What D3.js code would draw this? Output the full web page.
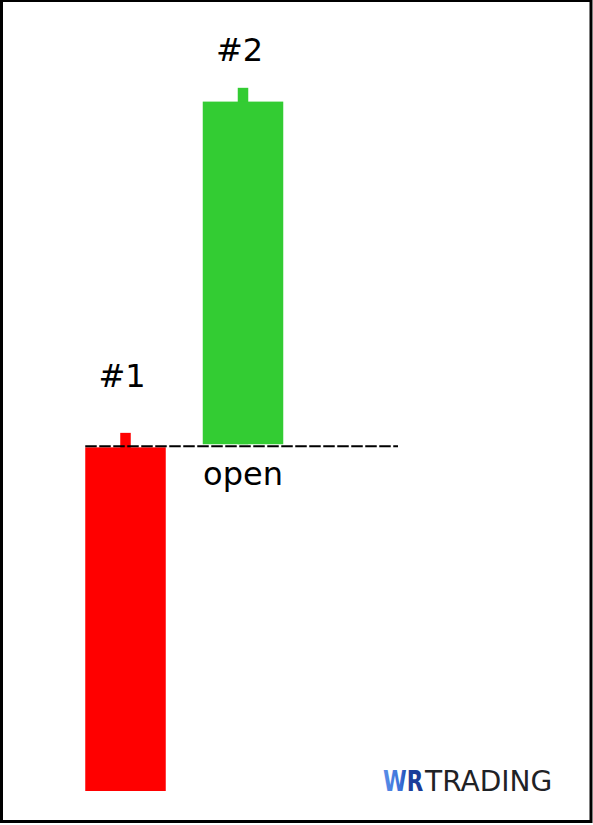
<!DOCTYPE html>
<html>
<head>
<meta charset="utf-8">
<script src="https://cdn.jsdelivr.net/npm/d3@7"></script>
<style>
  html, body { margin: 0; padding: 0; background: #fff; }
  svg { display: block; }
</style>
</head>
<body>
<svg id="chart" width="593" height="825"></svg>
<script>
// ---- data ----
const candles = ["#1", "#2"];
const openVals  = [99.7, 100.6];
const closeVals = [0, 200];
const highVals  = [103.9, 204];
const lowVals   = [0, 100.6];
const openLevel = 100;
const openLabel = "open";

// ---- layout ----
const W = 593, H = 825;
const svg = d3.select("#chart");

const x = d3.scalePoint().domain(candles).range([125.5, 243]);
const y = d3.scaleLinear().domain([0, 100]).range([791, 446.3]);
const bodyW = 80.5, wickW = 10.5;
const colors = { up: "#33cc33", down: "#ff0000" };

const data = candles.map((c, i) => ({
  name: c, open: openVals[i], close: closeVals[i], high: highVals[i], low: lowVals[i]
}));

// frame
svg.append("rect")
  .attr("x", 1.5).attr("y", 0.5)
  .attr("width", 589.5).attr("height", 821)
  .attr("fill", "#fff").attr("stroke", "#000").attr("stroke-width", 3);

const g = svg.append("g");

// wicks
g.selectAll(".wick").data(data).join("rect")
  .attr("class", "wick")
  .attr("x", d => x(d.name) - wickW / 2)
  .attr("width", wickW)
  .attr("y", d => y(d.high))
  .attr("height", d => y(d.low) - y(d.high))
  .attr("fill", d => d.close >= d.open ? colors.up : colors.down);

// bodies
g.selectAll(".body").data(data).join("rect")
  .attr("class", "body")
  .attr("x", d => x(d.name) - bodyW / 2)
  .attr("width", bodyW)
  .attr("y", d => y(Math.max(d.open, d.close)))
  .attr("height", d => Math.abs(y(d.open) - y(d.close)))
  .attr("fill", d => d.close >= d.open ? colors.up : colors.down);

// open dashed line
g.append("line")
  .attr("x1", x(candles[0]) - bodyW / 2)
  .attr("x2", 398)
  .attr("y1", y(openLevel)).attr("y2", y(openLevel))
  .attr("stroke", "#000").attr("stroke-width", 2)
  .attr("stroke-dasharray", "11.5,2.5");

g.append("text")
  .attr("x", x(candles[1]))
  .attr("y", y(openLevel) + 38.5)
  .attr("text-anchor", "middle")
  .attr("font-family", "DejaVu Sans")
  .attr("font-size", 32)
  .attr("fill", "#000")
  .text(openLabel);

// candle labels
const labelOffsets = [46, 27];
g.selectAll(".lbl").data(data).join("text")
  .attr("class", "lbl")
  .attr("x", d => x(d.name) - 3.5)
  .attr("y", (d, i) => y(d.high) - labelOffsets[i])
  .attr("text-anchor", "middle")
  .attr("font-family", "DejaVu Sans")
  .attr("font-size", 32)
  .attr("fill", "#000")
  .text(d => d.name);

// logo
const defs = svg.append("defs");
const grad = defs.append("linearGradient").attr("id", "wrgrad")
  .attr("x1", "0%").attr("x2", "100%").attr("y1", "0%").attr("y2", "0%");
grad.append("stop").attr("offset", "0%").attr("stop-color", "#5b8fe8");
grad.append("stop").attr("offset", "45%").attr("stop-color", "#3a6fd8");
grad.append("stop").attr("offset", "60%").attr("stop-color", "#1c3f9e");
grad.append("stop").attr("offset", "100%").attr("stop-color", "#1a3a94");

svg.append("text")
  .attr("transform", "translate(383,791) scale(0.78,1)")
  .attr("font-family", "DejaVu Sans")
  .attr("font-weight", "bold")
  .attr("font-size", 27.5)
  .attr("fill", "url(#wrgrad)")
  .text("WR");

svg.append("text")
  .attr("transform", "translate(425,791) scale(1.02,1)")
  .attr("font-family", "DejaVu Sans")
  .attr("font-size", 27.5)
  .attr("fill", "#1f2226")
  .text("TRADING");
</script>
</body>
</html>
